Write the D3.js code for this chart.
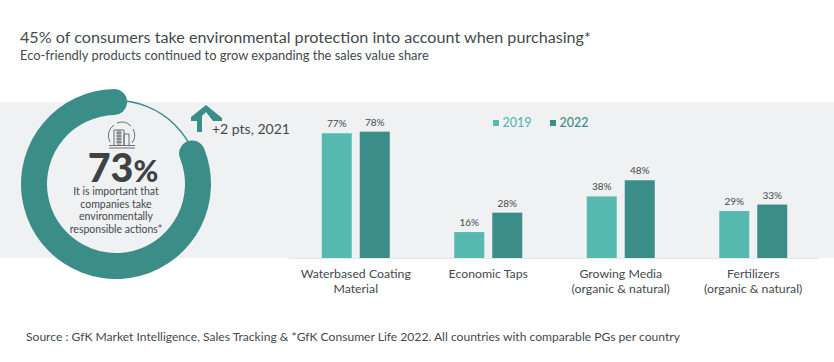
<!DOCTYPE html>
<html>
<head>
<meta charset="utf-8">
<script src="https://cdn.jsdelivr.net/npm/d3@7"></script>
<style>
html, body { margin: 0; padding: 0; background: #fff; }
svg { display: block; }
text { font-family: Lato, "Open Sans", sans-serif; fill: #44494d; }
</style>
</head>
<body>
<script>
var categories = [["Waterbased Coating", "Material"], ["Economic Taps"], ["Growing Media", "(organic & natural)"], ["Fertilizers", "(organic & natural)"]];
var years = ["2019", "2022"];
var values2019 = [77, 16, 38, 29];
var values2022 = [78, 28, 48, 33];
var gaugeValue = 73;
var gaugeLabel = ["It is important that", "companies take", "environmentally", "responsible actions*"];

var width = 834, height = 362;
var light = "#55b9b0", dark = "#3b8e87";

var svg = d3.select("body").append("svg")
    .attr("width", width)
    .attr("height", height);

svg.append("rect")
    .attr("x", 0).attr("y", 102)
    .attr("width", width).attr("height", 156)
    .attr("fill", "#f0f1f3");

svg.append("text")
    .attr("x", 20).attr("y", 43)
    .style("font-size", "16.15px")
    .text("45% of consumers take environmental protection into account when purchasing*");

svg.append("text")
    .attr("x", 20).attr("y", 59.5)
    .style("font-size", "12.9px")
    .text("Eco-friendly products continued to grow expanding the sales value share");

// bars
var x0 = d3.scaleBand()
    .domain(categories.map(function(d, i) { return i; }))
    .range([289.5, 819.5]);

var x1 = d3.scaleBand()
    .domain(years)
    .range([0, 68])
    .paddingInner(8 / 38);

var y = d3.scaleLinear()
    .domain([0, 100])
    .range([258, 96]);

var series = [
  {year: "2019", values: values2019, color: light},
  {year: "2022", values: values2022, color: dark}
];

var groupOffset = (x0.bandwidth() - 68) / 2;

svg.append("line")
    .attr("x1", 289).attr("x2", 819.5)
    .attr("y1", 258.5).attr("y2", 258.5)
    .attr("stroke", "#e6e8ea");

var seriesG = svg.selectAll("g.series")
    .data(series)
  .enter().append("g")
    .attr("class", "series");

seriesG.selectAll("rect")
    .data(function(s) { return s.values.map(function(v, i) { return {i: i, v: v, s: s}; }); })
  .enter().append("rect")
    .attr("x", function(d) { return x0(d.i) + groupOffset + x1(d.s.year); })
    .attr("y", function(d) { return y(d.v); })
    .attr("width", x1.bandwidth())
    .attr("height", function(d) { return y(0) - y(d.v); })
    .attr("fill", function(d) { return d.s.color; });

seriesG.selectAll("text")
    .data(function(s) { return s.values.map(function(v, i) { return {i: i, v: v, s: s}; }); })
  .enter().append("text")
    .attr("x", function(d) { return x0(d.i) + groupOffset + x1(d.s.year) + x1.bandwidth() / 2; })
    .attr("y", function(d) { return y(d.v) - 6; })
    .attr("text-anchor", "middle")
    .style("font-size", "10px")
    .text(function(d) { return d.v + "%"; });

// category labels
var catLabels = svg.selectAll("text.cat")
    .data(categories)
  .enter().append("text")
    .attr("class", "cat")
    .attr("text-anchor", "middle")
    .attr("y", 278)
    .style("font-size", "12.3px");

catLabels.selectAll("tspan")
    .data(function(d, i) { return d.map(function(t) { return {t: t, i: i}; }); })
  .enter().append("tspan")
    .attr("x", function(d) { return x0(d.i) + x0.bandwidth() / 2; })
    .attr("dy", function(d, j) { return j ? 15 : 0; })
    .text(function(d) { return d.t; });

// legend
var legend = svg.selectAll("g.legend")
    .data(series)
  .enter().append("g")
    .attr("class", "legend")
    .attr("transform", function(d, i) { return "translate(" + (493 + i * 57) + ",120)"; });

legend.append("rect")
    .attr("width", 6).attr("height", 6)
    .attr("fill", function(d) { return d.color; });

legend.append("text")
    .attr("x", 9.5).attr("y", 7)
    .style("font-size", "12.5px")
    .style("font-weight", 500)
    .style("fill", function(d) { return d.color; })
    .text(function(d) { return d.year; });

// donut: the thick band in the picture sweeps further than 73% of a turn
var gauge = svg.append("g").attr("transform", "translate(116,184)");

var angle = d3.scaleLinear()
    .domain([0, 100])
    .range([0, 423 * Math.PI / 180]);

var startAngle = 59 * Math.PI / 180;

gauge.append("circle")
    .attr("r", 83.5)
    .attr("fill", "none")
    .attr("stroke", dark)
    .attr("stroke-width", 1.5);

gauge.append("path")
    .attr("d", d3.arc().cornerRadius(13)({
      innerRadius: 69, outerRadius: 95,
      startAngle: startAngle,
      endAngle: startAngle + angle(gaugeValue)
    }))
    .attr("fill", dark);

var big = gauge.append("text")
    .attr("x", 7).attr("y", -2)
    .attr("text-anchor", "middle")
    .style("font-weight", 900)
    .style("font-size", "39.5px")
    .style("fill", "#3d4245");

big.append("tspan").text(gaugeValue);
big.append("tspan").style("font-size", "30px").text("%");

gauge.selectAll("text.lab")
    .data(gaugeLabel)
  .enter().append("text")
    .attr("class", "lab")
    .attr("text-anchor", "middle")
    .attr("y", function(d, i) { return 11 + i * 12.7; })
    .style("font-size", "10.5px")
    .text(function(d) { return d; });

// small building icon
var icon = gauge.append("g")
    .attr("transform", "translate(6,-49)")
    .attr("fill", "none")
    .attr("stroke", "#5b6064")
    .attr("stroke-width", 0.9);

icon.append("path").attr("d", "M-13,10.5H13M-13,13H13");
icon.append("path").attr("d", "M-8,10V-5H2V10M2,10V-1H7V10M-6,-2H0M-6,1H0M-6,4H0M-6,7H0M-4,-5V10M-2,-5V10");
icon.append("path").attr("d", "M-12,7A13,13 0 0 1 -8,-10M-5,-12A13,13 0 0 1 9,-9M11,-6A13,13 0 0 1 10,8");

// up arrow
svg.append("path")
    .attr("d", "M191,117L206,105L222,118V121H213L206,112L202,116V132H197V121H191Z")
    .attr("fill", dark);

svg.append("text")
    .attr("x", 212).attr("y", 134)
    .style("font-size", "14px")
    .text("+2 pts, 2021");

svg.append("text")
    .attr("x", 26).attr("y", 341)
    .style("font-size", "12.1px")
    .text("Source : GfK Market Intelligence, Sales Tracking & *GfK Consumer Life 2022. All countries with comparable PGs per country");
</script>
</body>
</html>
